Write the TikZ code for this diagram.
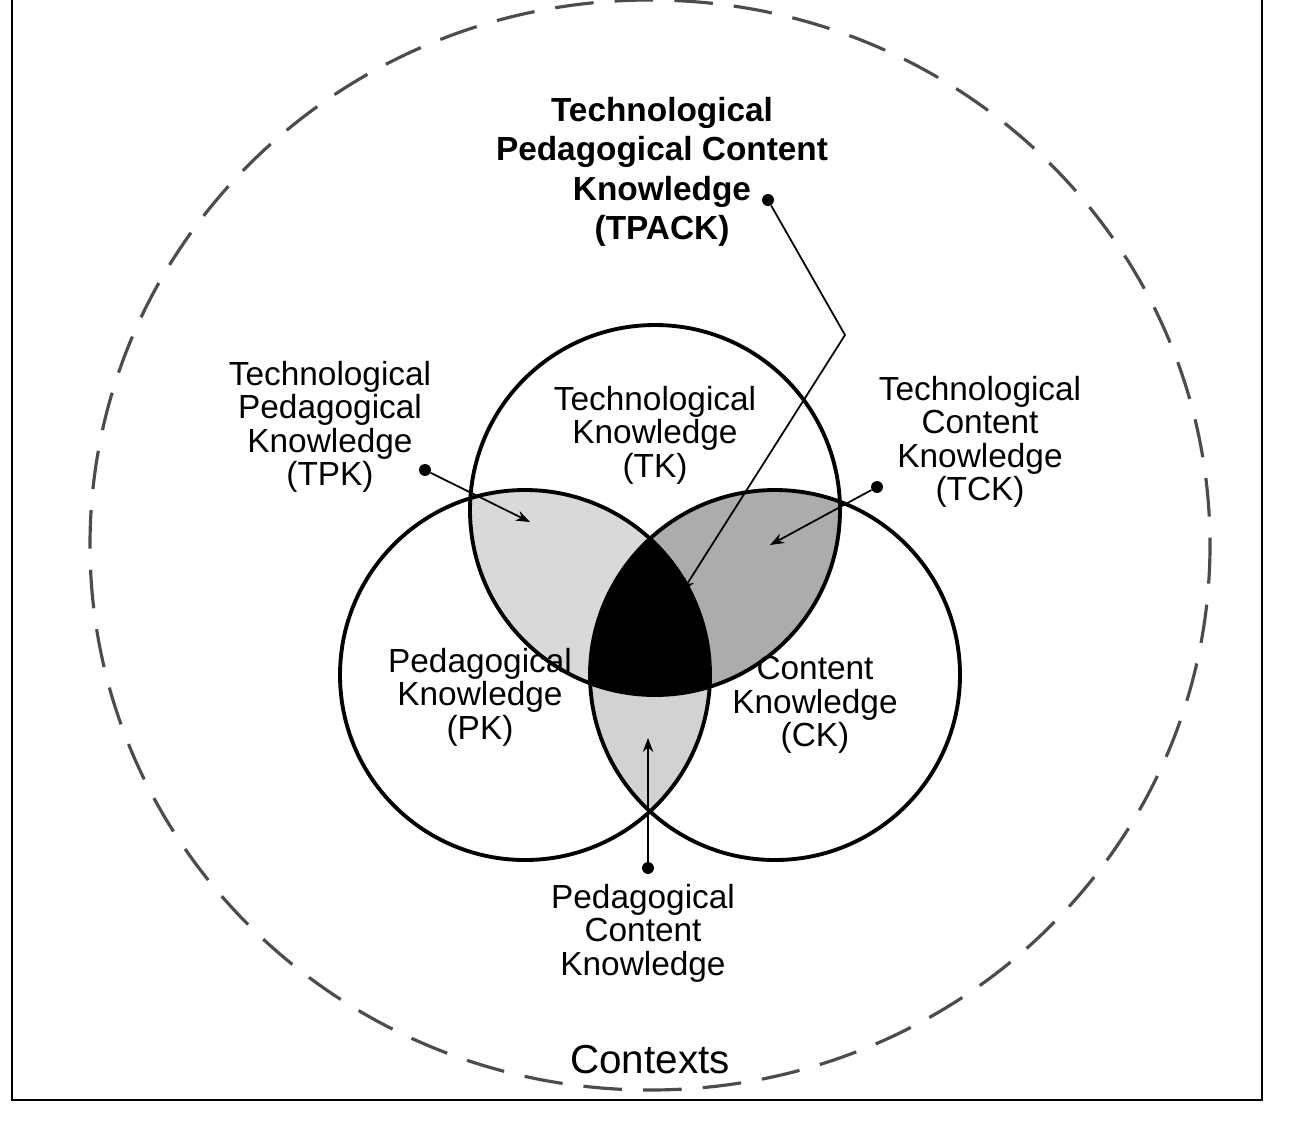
\documentclass[tikz,border=0pt]{standalone}
\usepackage{fontspec}
\setmainfont{Liberation Sans}
\usetikzlibrary{arrows.meta}
\begin{document}
\begin{tikzpicture}[x=0.02cm,y=-0.02cm,
  lbl/.style={align=center,font=\fontsize{19}{19}\selectfont},
  ring/.style={line width=2.2pt},
  lead/.style={line width=1pt,-{Stealth[length=8pt]}},
  dot/.style={circle,fill,inner sep=2.4pt}]
\useasboundingbox (0,0) rectangle (1304,1130);
\fill[white] (0,0) rectangle (1304,1130);
\draw[line width=1pt] (12,0) -- (12,1100) -- (1262,1100) -- (1262,0);
\draw[line width=1.8pt,gray!60!black,dash pattern=on 22pt off 12pt] (650,545) ellipse [x radius=560,y radius=545];
\coordinate (T) at (655,510); \coordinate (P) at (525,675); \coordinate (C) at (775,675);
\def\R{185}
\begin{scope}\clip (T) circle (\R); \fill[gray!30] (P) circle (\R); \fill[gray!65] (C) circle (\R);\end{scope}
\begin{scope}\clip (P) circle (\R); \fill[gray!35] (C) circle (\R);\end{scope}
\begin{scope}\clip (T) circle (\R); \clip (P) circle (\R); \fill[black] (C) circle (\R);\end{scope}
\draw[ring] (T) circle (\R); \draw[ring] (P) circle (\R); \draw[ring] (C) circle (\R);
\node[lbl,font=\fontsize{19}{22.5}\selectfont\bfseries] (tpack) at (662,172) {Technological\\Pedagogical Content\\Knowledge\\(TPACK)};
\node[lbl] (tk) at (655,435) {Technological\\Knowledge\\(TK)};
\node[lbl] (pk) at (480,697) {Pedagogical\\Knowledge\\(PK)};
\node[lbl] (ck) at (815,705) {Content\\Knowledge\\(CK)};
\node[lbl] (tpk) at (330,427) {Technological\\Pedagogical\\Knowledge\\(TPK)};
\node[lbl] (tck) at (980,442) {Technological\\Content\\Knowledge\\(TCK)};
\node[lbl] (pck) at (643,933) {Pedagogical\\Content\\Knowledge};
\node[font=\fontsize{23}{26}\selectfont] (ctx) at (650,1060) {Contexts};
\node[dot] (d1) at (768,200) {}; \coordinate (b1) at (845,335); \coordinate (e1) at (682,592);
\draw[lead] (d1) -- (b1) -- (e1);
\node[dot] (d2) at (425,470) {}; \coordinate (e2) at (530,522);
\draw[lead] (d2) -- (e2);
\node[dot] (d3) at (877,487) {}; \coordinate (e3) at (770,545);
\draw[lead] (d3) -- (e3);
\node[dot] (d4) at (648,868) {}; \coordinate (e4) at (648,738);
\draw[lead] (d4) -- (e4);
\end{tikzpicture}
\end{document}
